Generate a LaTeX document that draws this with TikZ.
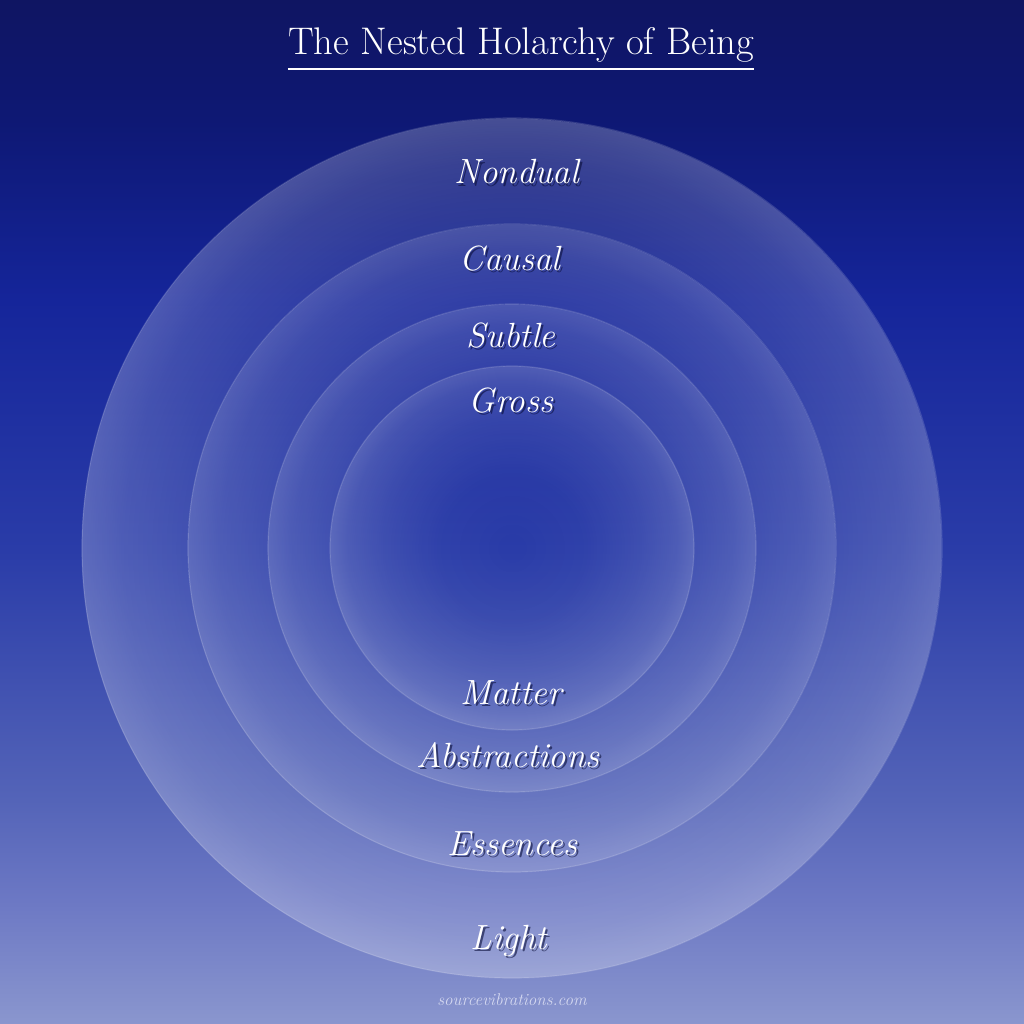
\documentclass[tikz,border=0pt]{standalone}
\usetikzlibrary{fadings}
\definecolor{bg0}{RGB}{138,150,206}
\definecolor{bg1}{RGB}{108,120,196}
\definecolor{bg2}{RGB}{84,100,184}
\definecolor{bg3}{RGB}{42,60,168}
\definecolor{bg4}{RGB}{21,37,154}
\definecolor{bg5}{RGB}{14,24,116}
\definecolor{bg6}{RGB}{15,21,98}
\definecolor{shadowc}{RGB}{8,12,55}
\definecolor{urlc}{RGB}{212,216,240}
\pgfdeclareverticalshading{bgsh}{100bp}{color(0bp)=(bg0); color(25bp)=(bg0); color(31.05bp)=(bg1); color(35.94bp)=(bg2); color(48.14bp)=(bg3); color(60.35bp)=(bg4); color(69.14bp)=(bg5); color(75bp)=(bg6); color(100bp)=(bg6)}
\pgfdeclareradialshading{ringsh}{\pgfpointorigin}{color(0bp)=(black!100); color(10bp)=(black!97); color(17.5bp)=(black!90); color(22.5bp)=(black!83); color(25bp)=(black!76); color(50bp)=(black!76)}
\pgfdeclarefading{ringfade}{\pgfuseshading{ringsh}}
\tikzset{
  lbl/.style={font=\fontsize{35}{40}\selectfont\itshape, text=white, anchor=base, inner sep=0pt},
  lblshadow/.style={lbl, text=shadowc, text opacity=0.6},
  rim/.style={draw=white, draw opacity=0.15, line width=1.2pt},
  ringglow/.style={fill=white, path fading=ringfade},
}
\newcommand\ringlabel[4]{%
  \node[lblshadow] (#1-sh) at (#2+2,#3+2.5) {#4};
  \node[lbl] (#1) at (#2,#3) {#4};}
\newcommand\holocircle[2]{%
  \begin{scope}
    \clip (512,548) circle (#2);
    \shade[shading=bgsh] (0,0) rectangle (1024,1024);
  \end{scope}
  \fill[ringglow] (512,548) circle (#2);
  \draw[rim] (512,548) circle (#2);
  \coordinate (#1) at (512,548);}
\begin{document}
\begin{tikzpicture}[x=1pt,y=-1pt]
  \useasboundingbox (0,0) rectangle (1024,1024);
  \shade[shading=bgsh] (0,0) rectangle (1024,1024);
  \holocircle{cnondual}{430}
  \holocircle{ccausal}{324}
  \holocircle{csubtle}{244}
  \holocircle{cgross}{182}
  % title
  \node[font=\fontsize{38.5}{44}\selectfont, text=white, anchor=base, inner sep=0pt] (title) at (521,55) {The Nested Holarchy of Being};
  \draw[white, line width=1.8pt] ([yshift=-14pt]title.base west) -- ([yshift=-14pt]title.base east);
  % labels
  \ringlabel{nondual}{517}{184}{Nondual}
  \ringlabel{causal}{510}{270}{Causal}
  \ringlabel{subtle}{511}{347}{Subtle}
  \ringlabel{gross}{511}{412}{Gross}
  \ringlabel{matter}{511}{704}{Matter}
  \ringlabel{abstr}{508}{767}{Abstractions}
  \ringlabel{essences}{512}{855}{Essences}
  \ringlabel{light}{509}{949}{Light}
  % url
  \node[font=\fontsize{17}{20}\selectfont\itshape, text=urlc, anchor=base, inner sep=0pt] (url) at (512,1005) {sourcevibrations.com};
\end{tikzpicture}
\end{document}
